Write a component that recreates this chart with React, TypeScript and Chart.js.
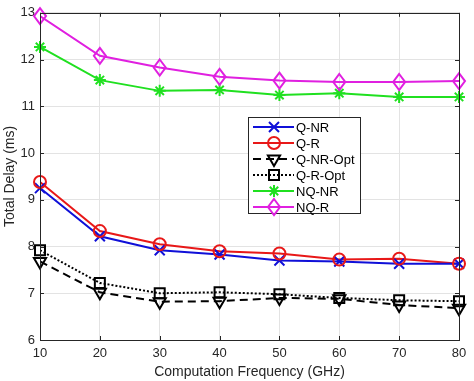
import React, { useEffect, useRef } from "react";
import { Chart, registerables } from "chart.js";

Chart.register(...registerables);

const frequencies = [10, 20, 30, 40, 50, 60, 70, 80];
const qNR = [9.25, 8.22, 7.92, 7.83, 7.7, 7.68, 7.63, 7.63];
const qR = [9.38, 8.33, 8.05, 7.9, 7.85, 7.72, 7.74, 7.63];
const qNROpt = [7.68, 7.02, 6.82, 6.83, 6.9, 6.88, 6.75, 6.68];
const qROpt = [7.92, 7.22, 7.0, 7.02, 6.98, 6.9, 6.85, 6.83];
const nqNR = [12.27, 11.56, 11.33, 11.35, 11.24, 11.28, 11.2, 11.2];
const nqR = [12.93, 12.08, 11.83, 11.63, 11.55, 11.52, 11.52, 11.54];

const seriesNames = ["Q-NR", "Q-R", "Q-NR-Opt", "Q-R-Opt", "NQ-NR", "NQ-R"];
const xTicks = [10, 20, 30, 40, 50, 60, 70, 80];
const yTicks = [6, 7, 8, 9, 10, 11, 12, 13];

const FONT = "'Liberation Sans', Arial, Helvetica, sans-serif";

type Marker = "x" | "o" | "v" | "s" | "*" | "d";

function drawMarker(ctx: CanvasRenderingContext2D, m: Marker, x: number, y: number, color: string) {
  ctx.save();
  ctx.strokeStyle = color;
  ctx.lineWidth = 2;
  ctx.setLineDash([]);
  ctx.beginPath();
  if (m === "x") {
    const r = 5;
    ctx.moveTo(x - r, y - r); ctx.lineTo(x + r, y + r);
    ctx.moveTo(x + r, y - r); ctx.lineTo(x - r, y + r);
  } else if (m === "o") {
    ctx.arc(x, y, 6, 0, Math.PI * 2);
  } else if (m === "v") {
    const r = 7;
    ctx.moveTo(x - r * 0.87, y - r * 0.5);
    ctx.lineTo(x + r * 0.87, y - r * 0.5);
    ctx.lineTo(x, y + r);
    ctx.closePath();
  } else if (m === "s") {
    const s = 5;
    ctx.rect(x - s, y - s, 2 * s, 2 * s);
  } else if (m === "*") {
    const r = 6;
    ctx.moveTo(x - r, y); ctx.lineTo(x + r, y);
    ctx.moveTo(x, y - r); ctx.lineTo(x, y + r);
    const d = r * 0.7;
    ctx.moveTo(x - d, y - d); ctx.lineTo(x + d, y + d);
    ctx.moveTo(x + d, y - d); ctx.lineTo(x - d, y + d);
  } else if (m === "d") {
    const r = 8;
    ctx.moveTo(x, y - r); ctx.lineTo(x + r * 0.75, y); ctx.lineTo(x, y + r); ctx.lineTo(x - r * 0.75, y);
    ctx.closePath();
  }
  ctx.stroke();
  ctx.restore();
}

const styles: { color: string; dash: number[]; marker: Marker }[] = [
  { color: "#1010d8", dash: [], marker: "x" },
  { color: "#e81818", dash: [], marker: "o" },
  { color: "#000000", dash: [8, 5], marker: "v" },
  { color: "#000000", dash: [2, 2], marker: "s" },
  { color: "#20e020", dash: [], marker: "*" },
  { color: "#e020e0", dash: [], marker: "d" },
];

const allData = [qNR, qR, qNROpt, qROpt, nqNR, nqR];

const framePlugin = {
  id: "frameAndMarkers",
  afterDatasetsDraw(chart: any) {
    const ctx: CanvasRenderingContext2D = chart.ctx;
    const xs = chart.scales.x;
    const ys = chart.scales.y;
    allData.forEach((arr, i) => {
      arr.forEach((v, j) => {
        drawMarker(ctx, styles[i].marker, xs.getPixelForValue(frequencies[j]), ys.getPixelForValue(v), styles[i].color);
      });
    });
  },
  afterDraw(chart: any) {
    const ctx: CanvasRenderingContext2D = chart.ctx;
    const a = chart.chartArea;
    const xs = chart.scales.x;
    const ys = chart.scales.y;
    ctx.save();
    ctx.strokeStyle = "#262626";
    ctx.lineWidth = 1;
    ctx.setLineDash([]);
    ctx.strokeRect(Math.round(a.left) + 0.5, Math.round(a.top) + 0.5, Math.round(a.right - a.left), Math.round(a.bottom - a.top));
    ctx.beginPath();
    const tl = 4;
    xTicks.forEach((t) => {
      const px = Math.round(xs.getPixelForValue(t)) + 0.5;
      ctx.moveTo(px, a.bottom); ctx.lineTo(px, a.bottom - tl);
      ctx.moveTo(px, a.top); ctx.lineTo(px, a.top + tl);
    });
    yTicks.forEach((t) => {
      const py = Math.round(ys.getPixelForValue(t)) + 0.5;
      ctx.moveTo(a.left, py); ctx.lineTo(a.left + tl, py);
      ctx.moveTo(a.right, py); ctx.lineTo(a.right - tl, py);
    });
    ctx.stroke();

    // legend
    const lx = 248, ly = 117, lw = 112, lh = 96;
    ctx.fillStyle = "#ffffff";
    ctx.fillRect(lx, ly, lw, lh);
    ctx.strokeStyle = "#262626";
    ctx.strokeRect(lx + 0.5, ly + 0.5, lw, lh);
    ctx.font = `13px ${FONT}`;
    ctx.textBaseline = "middle";
    seriesNames.forEach((name, i) => {
      const cy = ly + 10 + i * 16;
      const st = styles[i];
      ctx.save();
      ctx.strokeStyle = st.color;
      ctx.lineWidth = 2;
      ctx.setLineDash(st.dash);
      ctx.beginPath();
      ctx.moveTo(lx + 5, cy);
      ctx.lineTo(lx + 46, cy);
      ctx.stroke();
      ctx.restore();
      drawMarker(ctx, st.marker, lx + 26, cy, st.color);
      ctx.fillStyle = "#000000";
      ctx.fillText(name, lx + 48, cy + 1);
    });
    ctx.restore();
  },
};

export default function App() {
  const ref = useRef<HTMLCanvasElement | null>(null);
  useEffect(() => {
    if (!ref.current) return;
    const chart = new Chart(ref.current, {
      type: "line",
      data: {
        datasets: allData.map((arr, i) => ({
          label: seriesNames[i],
          data: arr.map((v, j) => ({ x: frequencies[j], y: v })),
          borderColor: styles[i].color,
          borderWidth: 2,
          borderDash: styles[i].dash,
          pointRadius: 0,
          fill: false,
          tension: 0,
        })),
      },
      options: {
        animation: false,
        responsive: false,
        maintainAspectRatio: false,
        layout: { padding: { left: 0, right: 15, top: 11, bottom: 0 } },
        plugins: { legend: { display: false }, tooltip: { enabled: false } },
        scales: {
          x: {
            type: "linear",
            min: 10,
            max: 80,
            afterBuildTicks: (s: any) => { s.ticks = xTicks.map((v) => ({ value: v })); },
            afterFit: (s: any) => { s.height = 41; },
            grid: { color: "#e3e3e3", drawTicks: false },
            border: { display: false },
            ticks: { color: "#262626", font: { family: FONT, size: 13 }, padding: 6, maxRotation: 0 },
            title: { display: true, text: "Computation Frequency (GHz)", color: "#262626", font: { family: FONT, size: 14 }, padding: { top: 0, bottom: 0 } },
          },
          y: {
            type: "linear",
            min: 6,
            max: 13,
            afterBuildTicks: (s: any) => { s.ticks = yTicks.map((v) => ({ value: v })); },
            afterFit: (s: any) => { s.width = 40; },
            grid: { color: "#e3e3e3", drawTicks: false },
            border: { display: false },
            ticks: { color: "#262626", font: { family: FONT, size: 13 }, padding: 5 },
            title: { display: true, text: "Total Delay (ms)", color: "#262626", font: { family: FONT, size: 14 }, padding: { top: 2, bottom: 2 } },
          },
        },
      },
      plugins: [framePlugin],
    });
    return () => chart.destroy();
  }, []);
  return (
    <div style={{ position: "absolute", left: 0, top: 0, width: 474, height: 381, background: "#fff" }}>
      <canvas ref={ref} width={474} height={381} style={{ width: 474, height: 381 }} />
    </div>
  );
}
